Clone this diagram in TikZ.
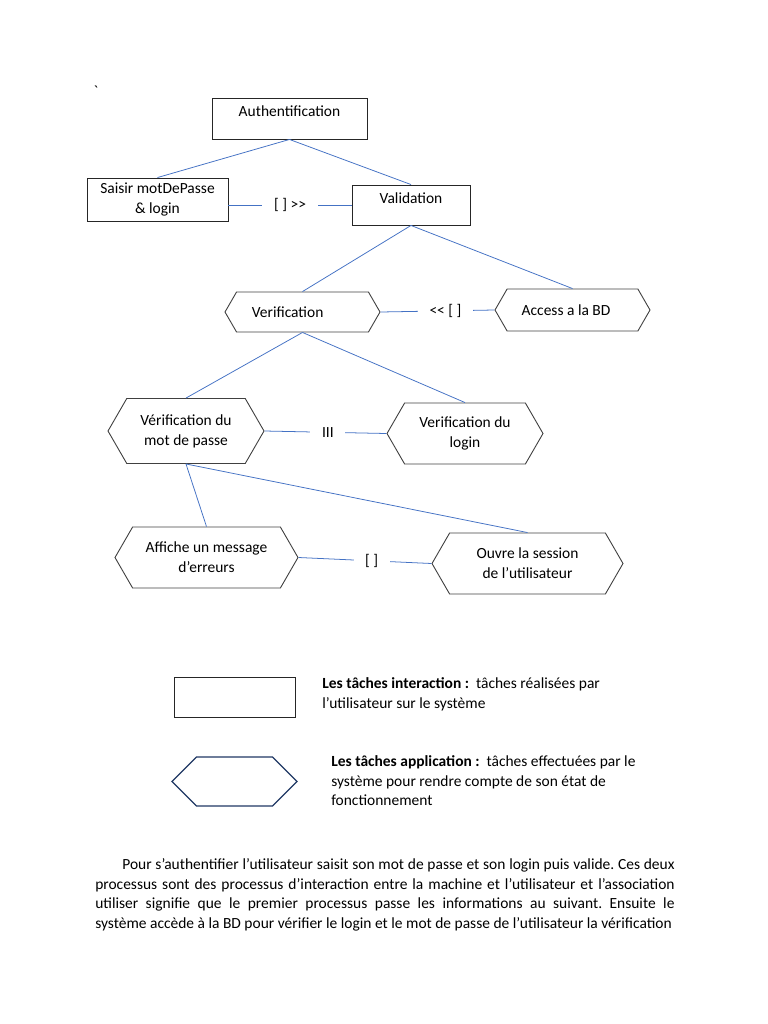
\documentclass[tikz,border=0pt]{standalone}
\usepackage{fontspec}
\setmainfont{Carlito}
\usetikzlibrary{shapes.symbols}
\definecolor{lienbleu}{HTML}{4472C4}
\definecolor{marine}{HTML}{203864}

\begin{document}
\begin{tikzpicture}[x=0.775pt,y=-0.775pt,
  font=\fontsize{12}{15.4}\selectfont\frenchspacing,
  tache/.style={draw=black!85, line width=0.7pt, align=center, inner sep=0pt},
  appli/.style={draw=black!75, line width=0.7pt, shape=signal, signal to=east and west,
    signal from=nowhere, signal pointer angle=120, align=center, inner sep=0pt},
  haut/.style={text depth=11pt},
  lien/.style={draw=lienbleu, line width=0.6pt},
  op/.style={fill=white, inner xsep=9pt, inner ysep=2pt, text=black}]

\useasboundingbox (0,0) rectangle (768,1024);

\node at (96,91) {\textasciigrave};

% taches du diagramme
\node [tache, haut, minimum width=155*0.775pt, minimum height=41*0.775pt] (auth) at (289.5,118.5) {Authentification};
\node [tache, minimum width=141*0.775pt, minimum height=43*0.775pt] (saisir) at (157.5,199.5) {Saisir motDePasse\\\& login};
\node [tache, haut, minimum width=118*0.775pt, minimum height=40*0.775pt] (valid) at (411,205) {Validation};

\node [appli, minimum width=155*0.775pt, minimum height=40*0.775pt] (verif) at (302.5,312) {Verification\hspace*{23pt}};
\node [appli, minimum width=155*0.775pt, minimum height=42*0.775pt] (access) at (572.5,310) {Access a la BD\hspace*{10pt}};

\node [appli, minimum width=156*0.775pt, minimum height=65*0.775pt] (vmdp) at (186,431) {Vérification du\\mot de passe};
\node [appli, minimum width=156*0.775pt, minimum height=61*0.775pt] (vlogin) at (465,433.5) {Verification du\\login};

\node [appli, minimum width=183*0.775pt, minimum height=61*0.775pt] (affiche) at (206.5,557.5) {Affiche un message\\d’erreurs};
\node [appli, minimum width=191*0.775pt, minimum height=61*0.775pt] (ouvre) at (527.5,563.5) {Ouvre la session\\de l’utilisateur};

% liens
\draw [lien] (auth.south) -- (saisir.north);
\draw [lien] (auth.south) -- (valid.north);
\draw [lien] (valid.west) -- node[op] {[ ] >{}>} (valid.west -| saisir.east);

\draw [lien] (valid.south) -- (verif.north);
\draw [lien] (valid.south) -- (access.north);
\draw [lien] (verif.east) -- node[op, pos=0.57] {<{}< [ ]} (access.west);

\draw [lien] (verif.south) -- (vmdp.north);
\draw [lien] (verif.south) -- (vlogin.north);
\draw [lien] (vmdp.east) -- node[op, pos=0.52] {III} (vlogin.west);

\draw [lien] (vmdp.south) -- (affiche.north);
\draw [lien] (vmdp.south) -- (ouvre.north);
\draw [lien] (affiche.east) -- node[op, pos=0.55] {[ ]} (ouvre.west);

% legende
\node [tache, minimum width=121*0.775pt, minimum height=40*0.775pt] (leg1) at (234.5,697) {};
\node [anchor=north west, inner sep=0pt, align=left] (txt1) at (322,677)
  {\textbf{Les tâches interaction :}\ \ tâches réalisées par\\l’utilisateur sur le système};

\node [appli, draw=marine, line width=0.9pt, signal pointer angle=90,
  minimum width=125*0.775pt, minimum height=49*0.775pt] (leg2) at (234.5,781.5) {};
\node [anchor=north west, inner sep=0pt, align=left] (txt2) at (331,755)
  {\textbf{Les tâches application :}\ \ tâches effectuées par le\\système pour rendre compte de son état de\\fonctionnement};

% paragraphe
\node [anchor=north west, inner sep=0pt, text width=449pt, align=justify] (para) at (95,858)
  {\parfillskip=0pt\hspace*{21pt}Pour s’authentifier l’utilisateur saisit son mot de passe et son login puis valide. Ces deux\linebreak
  processus sont des processus d’interaction entre la machine et l’utilisateur et l’association\linebreak
  utiliser signifie que le premier processus passe les informations au suivant. Ensuite le\linebreak
  système accède à la BD pour vérifier le login et le mot de passe de l’utilisateur la vérification};

\end{tikzpicture}
\end{document}
